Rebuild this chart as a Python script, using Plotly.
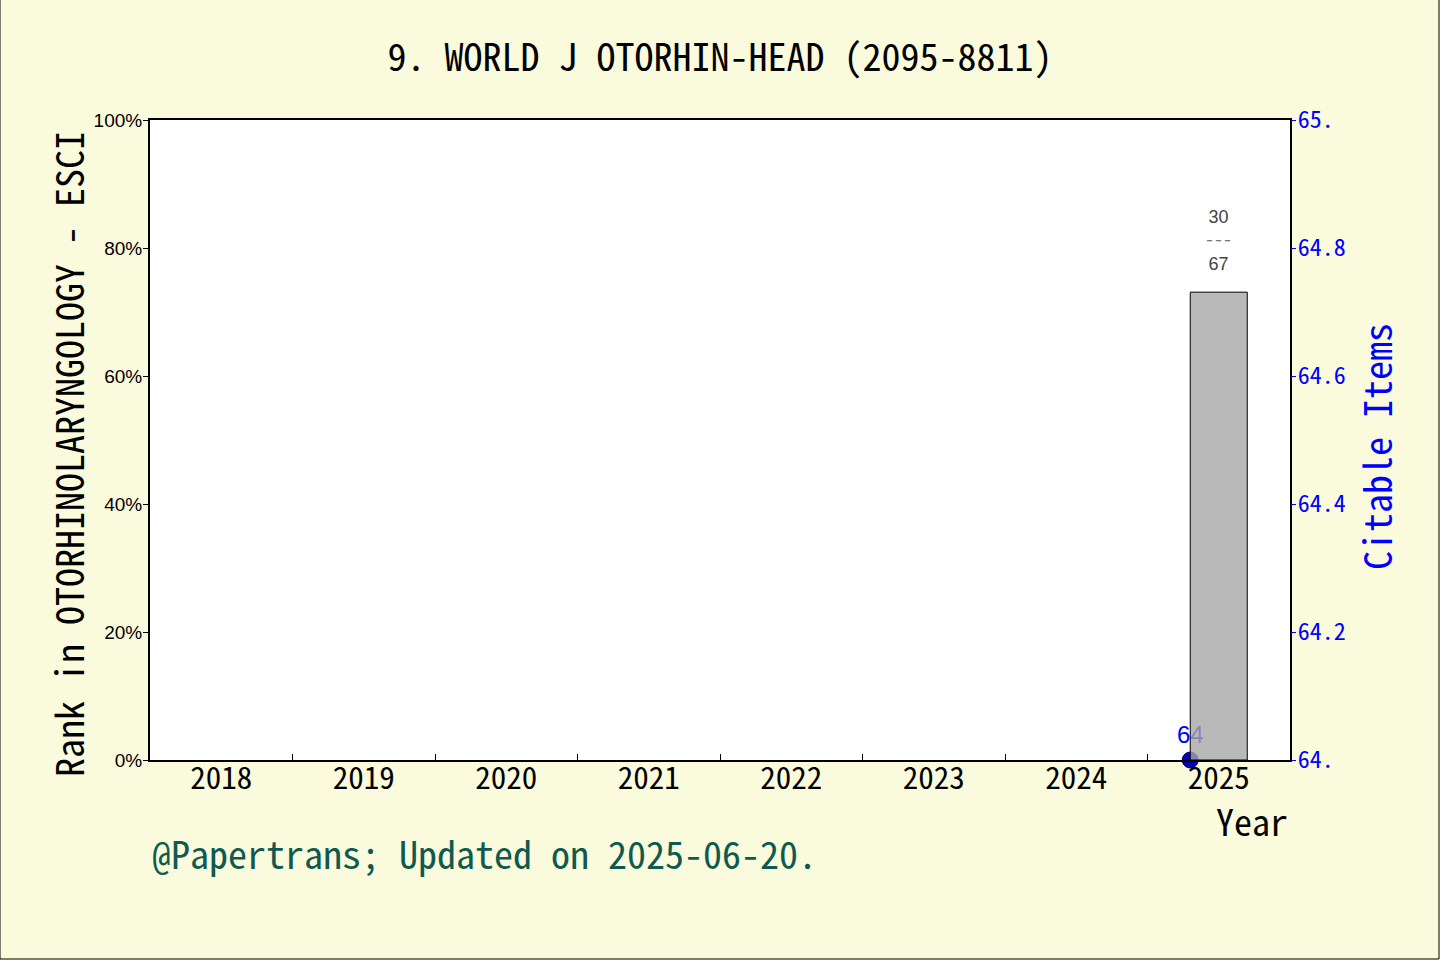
import plotly.graph_objects as go

## data
years = ["2018", "2019", "2020", "2021", "2022", "2023", "2024", "2025"]
rank_pct = [None, None, None, None, None, None, None, 73.1]
rank_text = ["", "", "", "", "", "", "", "30<br><span style='font-family:Noto Sans Mono CJK SC;color:#777777'>---</span><br>67"]
citable_years = ["2025"]
citable_items = [64]

left_ticks = [0, 20, 40, 60, 80, 100]
left_ticktext = ["0%", "20%", "40%", "60%", "80%", "100%"]
right_ticks = [64, 64.2, 64.4, 64.6, 64.8, 65]
right_ticktext = ["64.", "64.2", "64.4", "64.6", "64.8", "65."]

MONO = "Noto Sans Mono CJK SC, DejaVu Sans Mono, monospace"
SANS = "Liberation Sans, Arial, sans-serif"
BG = "#fafadc"

xpos = list(range(len(years)))
cit_x = [years.index(y) - 0.2 for y in citable_years]

fig = go.Figure()

# citable items (dot + label), drawn under the bars
fig.add_trace(go.Scatter(x=cit_x, y=citable_items, yaxis="y",
                         mode="markers+text", text=[str(v) for v in citable_items],
                         textposition="top center",
                         textfont=dict(color="#0000ff", size=24, family=SANS),
                         marker=dict(color="#0000b4", size=16, line=dict(color="#000060", width=1)),
                         cliponaxis=False, showlegend=False))

# rank bars
fig.add_trace(go.Bar(x=xpos, y=rank_pct, yaxis="y2", width=0.4,
                     marker=dict(color="rgba(168,168,168,0.8)",
                                 line=dict(color="black", width=1)),
                     showlegend=False))

for i, (v, t) in enumerate(zip(rank_pct, rank_text)):
    if v is None:
        continue
    fig.add_annotation(x=i, y=v, xref="x", yref="y2", text=t, showarrow=False,
                       yanchor="bottom", yshift=16,
                       font=dict(size=18, color="#444444", family=SANS))

fig.update_layout(
    width=1440, height=960,
    paper_bgcolor=BG, plot_bgcolor="white",
    margin=dict(l=150, r=150, t=120, b=200),
    title=dict(text="9. WORLD J OTORHIN-HEAD (2095-8811)", x=0.5, xanchor="center",
               y=0.94, yanchor="middle", font=dict(size=38, color="black", family=MONO)),
    xaxis=dict(range=[-0.5, 7.5], tickvals=xpos, ticktext=years, ticks="",
               tickfont=dict(size=31, color="black", family=MONO), ticklabelstandoff=-10,
               showline=True, linecolor="black", linewidth=2, mirror=True,
               showgrid=False, zeroline=False,
               minor=dict(tickvals=[i + 0.5 for i in xpos[:-1]], ticks="inside",
                          ticklen=6, tickcolor="black", showgrid=False)),
    yaxis=dict(range=[64, 65], side="right", tickvals=right_ticks, ticktext=right_ticktext,
               ticks="outside", ticklen=5, tickcolor="#0000ff", ticklabelstandoff=-3,
               tickfont=dict(size=24, color="#0000ff", family=MONO),
               showgrid=False, zeroline=False, showline=False),
    yaxis2=dict(range=[0, 100], side="left", overlaying="y", tickvals=left_ticks,
                ticktext=left_ticktext, ticks="outside", ticklen=5, tickcolor="black",
                ticklabelstandoff=-3,
                tickfont=dict(size=19, color="black", family=SANS),
                showline=True, linecolor="black", linewidth=2, mirror=True,
                showgrid=False, zeroline=False),
    shapes=[dict(type="rect", xref="paper", yref="paper", x0=-150 / 1140, x1=1289 / 1140,
                 y0=-199 / 640, y1=840 / 640, line=dict(color="black", width=1))],
)

# axis titles placed as annotations (the reference does not centre them on the axes)
fig.add_annotation(x=-83 / 1140, y=(760 - 454) / 640, xref="paper", yref="paper",
                   text="Rank in OTORHINOLARYNGOLOGY - ESCI", showarrow=False, textangle=-90,
                   xanchor="center", yanchor="middle",
                   font=dict(size=38, color="black", family=MONO))
fig.add_annotation(x=(1375 - 150) / 1140, y=(760 - 446) / 640, xref="paper", yref="paper",
                   text="Citable Items", showarrow=False, textangle=-90,
                   xanchor="center", yanchor="middle",
                   font=dict(size=38, color="#0000ff", family=MONO))
fig.add_annotation(x=1, y=-60 / 640, xref="paper", yref="paper", text="Year", showarrow=False,
                   xanchor="right", yanchor="middle",
                   font=dict(size=36, color="black", family=MONO))
fig.add_annotation(x=0, y=-92 / 640, xref="paper", yref="paper",
                   text="@Papertrans; Updated on 2025-06-20.", showarrow=False,
                   xanchor="left", yanchor="middle",
                   font=dict(size=38, color="#0f5a4f", family=MONO))

fig.write_html("out.html", config={"displayModeBar": False},
               post_script="document.body.style.margin='0';")
